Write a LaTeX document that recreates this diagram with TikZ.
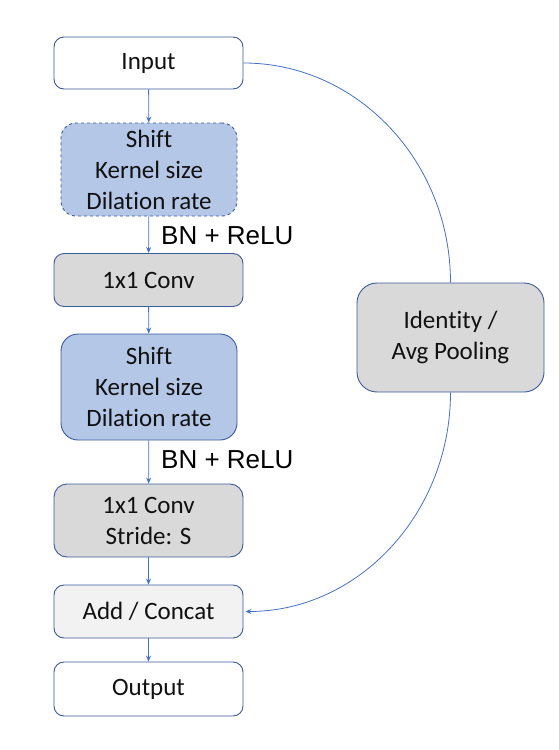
\documentclass[tikz,border=0pt]{standalone}
\usepackage{fontspec}
\setmainfont{Carlito}[RawFeature=-liga]
\newfontfamily\arialfont{Liberation Sans}
\usetikzlibrary{arrows.meta}
\definecolor{lineblue}{HTML}{4472C4}
\definecolor{edgeblue}{HTML}{3A5A9A}
\definecolor{shiftfill}{HTML}{B4C7E7}
\definecolor{convfill}{HTML}{D9D9D9}
\definecolor{addfill}{HTML}{F2F2F2}
\definecolor{txt}{HTML}{111111}
\tikzset{
  box/.style={draw=edgeblue, line width=0.9pt, rounded corners=10pt, align=center,
    text=txt, font=\fontsize{25}{31}\selectfont, inner sep=0pt},
  widebox/.style={box, minimum width=189pt},
  shiftbox/.style={box, fill=shiftfill, minimum width=176pt, rounded corners=15pt},
  flow/.style={draw=lineblue, line width=0.8pt, -{Stealth[length=6pt,width=5pt]}},
  skip/.style={draw=lineblue, line width=0.8pt},
  bnlabel/.style={anchor=west, text=black, font=\arialfont\fontsize{26}{30}\selectfont, inner sep=0pt}
}
\begin{document}
\begin{tikzpicture}[x=1pt,y=-1pt]
\useasboundingbox (0,0) rectangle (558,750);
\node[widebox, minimum height=52pt, fill=white] (input) at (148.5,63) {Input};
\node[shiftbox, dashed, minimum height=93pt] (shift1) at (149,169.5) {Shift\\Kernel size\\Dilation rate};
\node[widebox, fill=convfill, minimum height=53pt] (conv1) at (148.5,280) {1x1 Conv};
\node[shiftbox, minimum height=106pt, rounded corners=17pt] (shift2) at (149,387) {Shift\\Kernel size\\Dilation rate};
\node[widebox, fill=convfill, minimum height=73pt, rounded corners=13pt] (conv2) at (148.5,520.5) {1x1 Conv\\Stride: S};
\node[widebox, fill=addfill, minimum height=53pt] (add) at (148.5,611.5) {Add / Concat};
\node[widebox, fill=white, minimum height=54pt] (output) at (148.5,689) {Output};
\node[box, fill=convfill, minimum width=187pt, minimum height=109pt, rounded corners=20pt] (ident) at (450.5,337.5) {Identity /\\Avg Pooling};
\node[bnlabel] (bn1) at (161,236) {BN + ReLU};
\node[bnlabel] (bn2) at (161,460) {BN + ReLU};
\draw[flow] (input) -- (shift1);
\draw[flow] (shift1) -- (conv1);
\draw[flow] (conv1) -- (shift2);
\draw[flow] (shift2) -- (conv2);
\draw[flow] (conv2) -- (add);
\draw[flow] (add) -- (output);
\draw[skip] (input.east) .. controls +(114,0) and +(0,-121) .. (ident.north);
\draw[flow] (ident.south) .. controls +(0,121) and +(113,0) .. ([xshift=2pt]add.east);
\end{tikzpicture}
\end{document}
